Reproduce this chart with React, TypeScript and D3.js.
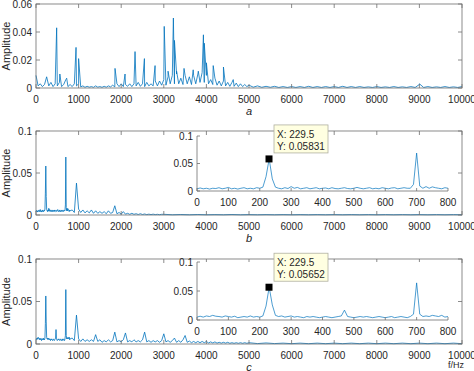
import * as React from 'react'
import * as d3 from 'd3'

// amplitudes below are in units of 1e-3

// panel a, 0..4950 Hz every 50 Hz
const aLow = [
  9, 1.5, 3, 1, 2.5, 8, 1.5, 4, 1, 3, 1.5, 4, 1, 2.5, 6, 1, 2.5, 1, 3, 1.5,
  3, 0.8, 1.5, 0.5, 1.2, 0.6, 1, 0.5, 1.5, 0.6, 1, 0.5, 1.2, 0.6, 1.5, 0.8, 2, 0.8, 3, 1,
  3, 1, 2.5, 1.2, 3, 1, 3, 1.5, 4, 1.2, 3, 1, 4, 1.5, 3, 1.5, 5, 1.5, 5, 2,
  6, 2, 8, 3, 9, 3, 10, 3, 7, 2.5, 9, 3, 8, 2.5, 9, 3, 10, 4, 11, 4,
  9, 3, 6, 2.5, 7, 2, 5, 1.5, 5, 1.5, 4, 1.2, 4, 1.2, 3.5, 1, 3, 1, 2.5, 1,
]
// panel a, 5000..10000 Hz every 100 Hz
const aHigh = [
  2, 0.6, 1.5, 0.5, 1.2, 0.5, 1.2, 0.4, 1, 0.4,
  1, 0.4, 1, 0.4, 1.2, 0.4, 1, 0.4, 1, 0.4,
  1, 0.4, 1.2, 0.4, 1, 0.4, 1, 0.4, 0.8, 0.4,
  1, 0.4, 0.8, 0.4, 1, 0.4, 0.8, 0.4, 1, 0.4,
  2.5, 0.4, 1, 0.4, 0.8, 0.4, 1, 0.4, 0.8, 0.4, 1,
]
// panel a spectral peaks [Hz, amp]
const aPeaks = [
  [485, 43], [560, 10], [720, 7], [940, 29], [1000, 21], [1855, 14], [2090, 10],
  [2325, 26], [2545, 21], [2795, 16], [3010, 44], [3100, 12], [3225, 50], [3250, 34],
  [3300, 12], [3475, 14], [3690, 13], [3810, 12], [3930, 38], [3950, 32], [4000, 18],
  [4160, 16], [4400, 15], [4630, 6], [9000, 3],
]

// panel b, 0..800 Hz every 10 Hz (also the zoomed inset)
const bLow = [
  4, 5.5, 4, 5, 3.5, 5, 4.5, 6, 4, 5,
  6.5, 4, 5, 3.5, 5, 6, 4, 5, 4, 6,
  5, 7, 26, 58.3, 22, 7, 5, 4, 6, 4.5,
  8, 5, 6.5, 4, 5, 6, 4, 5, 6, 4,
  5, 5.5, 4, 6, 4.5, 4, 5, 6, 4.5, 4,
  5, 6.5, 5, 4, 5, 6, 4, 5, 4, 6,
  5, 4, 5.5, 6, 4, 5, 6, 5, 5, 12,
  69, 9, 5, 8, 5, 7.5, 6, 5, 4, 6,
  5,
]
// panel b, 850..2950 Hz every 50 Hz
const bMid = [
  6, 3, 38, 7, 3, 6, 2.5, 5, 2.5, 6, 2, 5, 2, 4, 2, 4, 1.5, 5, 2, 3,
  11, 1.5, 3, 1, 4, 1, 2, 0.8, 2, 0.8, 1.5, 0.6, 1.5, 0.6, 1.2, 0.5, 1, 0.5, 1, 0.5,
  0.8, 0.4, 0.8,
]
// panel b, 3000..10000 Hz every 200 Hz
const bTail = [
  0.8, 0.3, 0.6, 0.3, 0.6, 0.3, 0.5, 0.3, 0.6, 0.3, 0.5, 0.3, 0.5, 0.3, 0.5, 0.3, 0.5, 0.3,
  0.5, 0.3, 0.5, 0.3, 0.5, 0.3, 0.5, 0.3, 0.5, 0.3, 0.5, 0.3, 0.5, 0.3, 0.5, 0.3, 0.5, 0.3,
]

// panel c, 0..800 Hz every 10 Hz (also the zoomed inset)
const cLow = [
  5, 6.5, 5, 7, 6, 8, 6.5, 6, 5, 7,
  6, 5, 6.5, 4, 5, 6, 5, 7, 5, 6,
  5, 7, 24, 56.5, 26, 8, 6, 7, 5, 6,
  7, 5, 6, 5, 4, 6, 5, 6, 5, 4,
  5, 6, 5, 4, 5, 6, 7, 17, 6, 5,
  4, 5, 6, 5, 6, 5, 4, 5, 6, 5,
  4, 5, 6, 4, 5, 6, 5, 4, 6, 10,
  64, 10, 6, 7, 6, 8, 7, 6, 8, 5,
  6,
]
// panel c, 850..4950 Hz every 50 Hz
const cMid = [
  7, 4, 34, 6, 3, 6, 3, 5, 3, 5,
  3, 11, 3, 5, 2, 4, 2.5, 5, 2.5, 4,
  14, 2.5, 4, 2.5, 5, 13, 2.5, 4, 2.5, 5,
  2.5, 4, 2.5, 5, 14, 2.5, 4, 2, 4, 2.5,
  4, 2, 4, 12, 2.5, 4, 2, 4, 7, 2,
  4, 2, 5, 10, 2, 3.5, 1.5, 3, 1.5, 3,
  1.5, 3, 1.5, 3, 1.2, 2.5, 1.2, 2.5, 1, 2,
  1, 2, 1, 2, 0.8, 1.5, 0.8, 1.5, 0.8, 1.5,
  0.8, 1.5, 0.8,
]
// panel c, 5000..10000 Hz every 200 Hz
const cTail = [
  1.5, 0.5, 1.2, 0.5, 1, 0.4, 1, 0.4, 1, 0.4, 1, 0.4, 1,
  0.4, 1, 0.4, 1, 0.4, 1, 0.4, 1, 0.4, 1, 0.4, 1, 0.4,
]

const freqTicks = [0, 1000, 2000, 3000, 4000, 5000, 6000, 7000, 8000, 9000, 10000]
const insetTicks = [0, 100, 200, 300, 400, 500, 600, 700, 800]
const yTicksA = [0, 0.02, 0.04, 0.06]
const yTicksBC = [0, 0.05, 0.1]
const tipB = { x: 229.5, y: 0.05831 }
const tipC = { x: 229.5, y: 0.05652 }

type Pt = [number, number]
const grid = (vals: number[], start: number, step: number): Pt[] =>
  vals.map((v, i) => [start + i * step, v / 1000] as Pt)
const pairs = (list: number[][]): Pt[] => list.map(([f, v]) => [f, v / 1000] as Pt)
const merged = (...parts: Pt[][]): Pt[] => parts.flat().sort((p, q) => p[0] - q[0])

const seriesA = merged(grid(aLow, 0, 50), grid(aHigh, 5000, 100), pairs(aPeaks))
const seriesB = merged(grid(bLow, 0, 10), grid(bMid, 850, 50), grid(bTail, 3000, 200))
const seriesC = merged(grid(cLow, 0, 10), grid(cMid, 850, 50), grid(cTail, 5000, 200))
const insetB = grid(bLow, 0, 10)
const insetC = grid(cLow, 0, 10)

const FONT = '"Liberation Sans", Arial, sans-serif'
const BLUE = '#0072BD'
const AXIS = '#6e6e6e'
const TXT = '#262626'

const xMain = d3.scaleLinear().domain([0, 10000]).range([36, 462])

const MainPanel = ({ top, bottom, yMax, yTicks, data, label }) => {
  const y = d3.scaleLinear().domain([0, yMax]).range([bottom, top])
  const line = d3.line<Pt>().x(d => xMain(d[0])).y(d => y(d[1]))
  const [x0, x1] = xMain.range()
  return (
    <g>
      <path d={line(data)} fill="none" stroke={BLUE} strokeWidth={0.8} />
      <rect x={x0} y={top} width={x1 - x0} height={bottom - top} fill="none" stroke={AXIS} strokeWidth={0.8} />
      {freqTicks.map(t => (
        <g key={t}>
          <line x1={xMain(t)} x2={xMain(t)} y1={bottom} y2={bottom - 4} stroke={AXIS} strokeWidth={0.8} />
          <line x1={xMain(t)} x2={xMain(t)} y1={top} y2={top + 4} stroke={AXIS} strokeWidth={0.8} />
          <text x={xMain(t)} y={bottom + 15} textAnchor="middle" fontSize={10} fill={TXT}>{t}</text>
        </g>
      ))}
      {yTicks.map(t => (
        <g key={t}>
          <line x1={x0} x2={x0 + 4} y1={y(t)} y2={y(t)} stroke={AXIS} strokeWidth={0.8} />
          <line x1={x1} x2={x1 - 4} y1={y(t)} y2={y(t)} stroke={AXIS} strokeWidth={0.8} />
          <text x={x0 - 4} y={y(t)} dy="0.35em" textAnchor="end" fontSize={10} fill={TXT}>{String(t)}</text>
        </g>
      ))}
      <text transform={`translate(10,${(top + bottom) / 2}) rotate(-90)`} textAnchor="middle" fontSize={11} fill={TXT}>Amplitude</text>
      <text x={(x0 + x1) / 2} y={bottom + 27} textAnchor="middle" fontSize={11} fontStyle="italic" fill={TXT}>{label}</text>
    </g>
  )
}

const Inset = ({ top, bottom, data, tip }) => {
  const x = d3.scaleLinear().domain([0, 800]).range([197, 448])
  const y = d3.scaleLinear().domain([0, 0.1]).range([bottom, top])
  const line = d3.line<Pt>().x(d => x(d[0])).y(d => y(d[1]))
  const [x0, x1] = x.range()
  const mx = x(tip.x)
  const my = y(tip.y)
  return (
    <g>
      <rect x={x0} y={top} width={x1 - x0} height={bottom - top} fill="#fff" />
      <path d={line(data)} fill="none" stroke={BLUE} strokeWidth={0.7} />
      <line x1={x0} x2={x1} y1={bottom} y2={bottom} stroke={AXIS} strokeWidth={0.8} />
      <line x1={x0} x2={x0} y1={top} y2={bottom} stroke={AXIS} strokeWidth={0.8} />
      {insetTicks.map(t => (
        <g key={t}>
          <line x1={x(t)} x2={x(t)} y1={bottom} y2={bottom - 3} stroke={AXIS} strokeWidth={0.8} />
          <text x={x(t)} y={bottom + 15} textAnchor="middle" fontSize={10} fill={TXT}>{t}</text>
        </g>
      ))}
      {yTicksBC.map(t => (
        <g key={t}>
          <line x1={x0} x2={x0 + 3} y1={y(t)} y2={y(t)} stroke={AXIS} strokeWidth={0.8} />
          <text x={x0 - 4} y={y(t)} dy="0.35em" textAnchor="end" fontSize={10} fill={TXT}>{String(t)}</text>
        </g>
      ))}
      <rect x={mx - 3.5} y={my - 3.5} width={7} height={7} fill="#000" />
      <rect x={mx + 5} y={my - 34} width={54} height={28} fill="#ffffe1" stroke="#b0b0a0" strokeWidth={0.8} />
      <text x={mx + 8} y={my - 21} fontSize={10} fill={TXT}>{`X: ${tip.x}`}</text>
      <text x={mx + 8} y={my - 9} fontSize={10} fill={TXT}>{`Y: ${tip.y}`}</text>
    </g>
  )
}

export default function App() {
  return (
    <svg width={474} height={371} style={{ position: 'absolute', left: 0, top: 0, background: '#fff' }} fontFamily={FONT}>
      <MainPanel top={4} bottom={88} yMax={0.06} yTicks={yTicksA} data={seriesA} label="a" />
      <MainPanel top={131} bottom={215} yMax={0.1} yTicks={yTicksBC} data={seriesB} label="b" />
      <Inset top={136} bottom={191} data={insetB} tip={tipB} />
      <MainPanel top={259} bottom={344} yMax={0.1} yTicks={yTicksBC} data={seriesC} label="c" />
      <Inset top={262} bottom={320} data={insetC} tip={tipC} />
      <text x={448} y={368} fontSize={9} fill={TXT}>f/Hz</text>
    </svg>
  )
}
